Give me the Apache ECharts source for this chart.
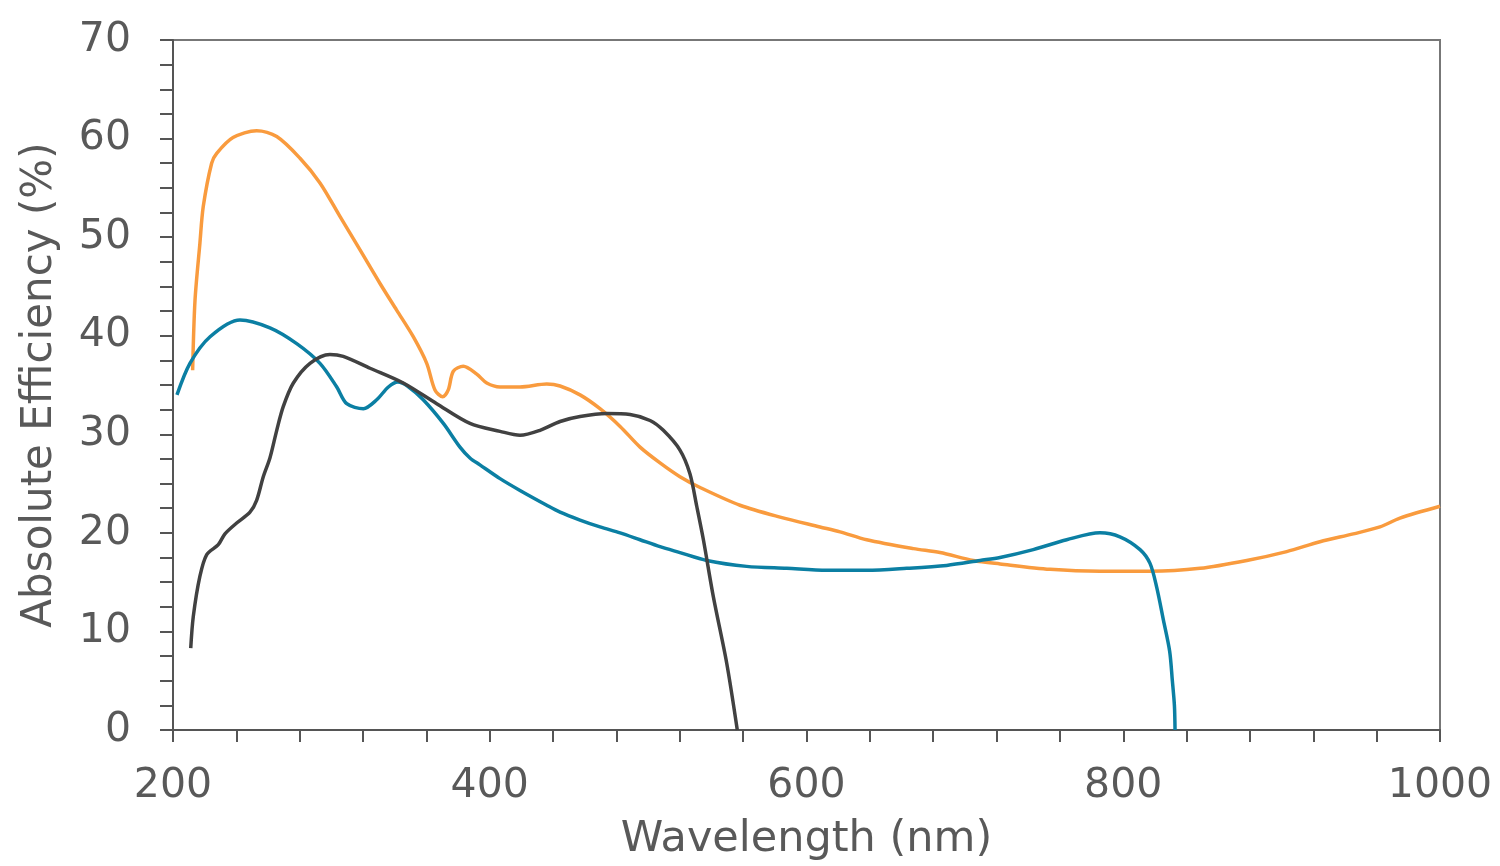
<!DOCTYPE html>
<html>
<head>
<meta charset="utf-8">
<script src="https://cdn.jsdelivr.net/npm/echarts@6/dist/echarts.min.js"></script>
<style>
html,body{margin:0;padding:0;background:#fff;}
#chart{width:1500px;height:866px;}
</style>
</head>
<body>
<div id="chart"></div>
<script>
// Wavelength (nm), Absolute Efficiency (%)
const orangeData = [
  [212.4,36.5],[213.9,43.6],[217.0,49.4],[219.1,53.1],[224.4,57.5],[227.6,58.5],
  [237.9,60.1],[252.8,60.8],[265.5,60.2],[280.2,58.0],[292.8,55.5],[305.4,52.1],
  [318.1,48.7],[330.7,45.3],[341.2,42.6],[351.7,39.9],[360.2,37.2],[365.4,34.5],
  [370.3,33.8],[373.8,34.5],[377.0,36.4],[383.3,36.9],[391.8,36.1],[398.1,35.2],
  [406.5,34.8],[419.1,34.8],[436.0,35.1],[444.4,34.9],[457.0,34.0],[469.6,32.6],
  [482.3,30.8],[494.9,28.7],[507.5,27.1],[520.1,25.7],[532.8,24.6],[558.0,22.8],
  [583.3,21.6],[608.5,20.6],[621.2,20.1],[638.0,19.3],[667.5,18.4],[684.3,18.0],
  [705.3,17.2],[722.2,16.85],[753.8,16.3],[785.3,16.1],[816.9,16.1],[848.5,16.4],
  [878.0,17.2],[903.2,18.1],[924.2,19.1],[945.3,19.9],[962.1,20.6],[974.7,21.5],
  [1000,22.7]
];
const blueData = [
  [202.5,34.0],[210.7,37.2],[223.4,39.9],[242.3,41.6],[261.2,40.8],[278.1,39.2],
  [292.8,37.2],[303.4,34.8],[309.7,33.1],[320.2,32.6],[328.6,33.5],[336.0,34.8],
  [342.0,35.3],[348.0,34.9],[358.0,33.5],[370.7,31.1],[381.2,28.7],[387.5,27.6],
  [393.8,26.9],[406.5,25.5],[419.1,24.3],[436.0,22.8],[444.4,22.1],[457.0,21.3],
  [469.6,20.6],[482.3,20.0],[494.9,19.3],[507.5,18.6],[520.1,18.0],[537.0,17.2],
  [562.2,16.6],[587.5,16.4],[612.8,16.2],[638.0,16.2],[663.3,16.4],[688.5,16.7],
  [709.6,17.2],[722.2,17.5],[743.2,18.3],[764.3,19.3],[785.3,20.0],[797.9,19.6],
  [810.6,18.3],[816.9,16.9],[821.1,14.5],[825.3,11.2],[829.3,8.0],[831.0,5.0],
  [832.3,2.5],[832.7,0]
];
const blackData = [
  [211.2,8.3],[212.8,11.5],[217.0,15.6],[221.3,17.8],[228.6,18.8],[232.8,19.9],
  [240.2,21.0],[248.6,22.1],[252.8,23.3],[257.0,25.7],[261.2,27.6],[265.5,30.4],
  [269.6,32.8],[276.0,35.2],[286.5,37.2],[299.1,38.1],[307.5,37.9],[324.4,36.7],
  [345.4,35.2],[366.5,33.1],[387.5,31.1],[406.5,30.3],[419.1,29.9],[431.7,30.4],
  [444.4,31.3],[457.0,31.8],[473.8,32.1],[488.6,32.0],[501.2,31.4],[509.6,30.4],
  [520.1,28.4],[526.4,26.0],[530.7,22.7],[534.9,19.3],[541.2,13.5],[549.6,6.8],
  [556.3,0]
];
const xTickLabels = [200, 400, 600, 800, 1000];
const yTickLabels = [0, 10, 20, 30, 40, 50, 60, 70];
const xTitle = 'Wavelength (nm)';
const yTitle = 'Absolute Efficiency (%)';

const textColor = '#595959';
const axisColor = '#555555';
const font = 'DejaVu Sans';

const chart = echarts.init(document.getElementById('chart'), null, {renderer: 'canvas'});
chart.setOption({
  animation: false,
  backgroundColor: '#ffffff',
  grid: {left: 173, right: 60, top: 40, bottom: 136, show: true, borderColor: '#777', borderWidth: 2, containLabel: false},
  xAxis: {
    type: 'value', min: 200, max: 1000, interval: 40,
    name: xTitle, nameLocation: 'middle', nameGap: 88,
    nameTextStyle: {color: textColor, fontSize: 43, fontFamily: font},
    axisLine: {show: true, lineStyle: {color: axisColor, width: 2}},
    axisTick: {show: true, length: 12, lineStyle: {color: axisColor, width: 2}},
    axisLabel: {
      color: textColor, fontSize: 41, fontFamily: font, margin: 36,
      showMinLabel: true, showMaxLabel: true,
      formatter: v => xTickLabels.includes(v) ? String(v) : ''
    },
    splitLine: {show: false}
  },
  yAxis: {
    type: 'value', min: 0, max: 70, interval: 2.5,
    name: yTitle, nameLocation: 'middle', nameGap: 112, nameRotate: 90,
    nameTextStyle: {color: textColor, fontSize: 42, fontFamily: font},
    axisLine: {show: true, lineStyle: {color: axisColor, width: 2}},
    axisTick: {show: true, length: 13, lineStyle: {color: axisColor, width: 2}},
    axisLabel: {
      color: textColor, fontSize: 41, fontFamily: font, margin: 42,
      showMinLabel: true, showMaxLabel: true,
      formatter: v => yTickLabels.includes(v) ? String(v) : ''
    },
    splitLine: {show: false}
  },
  series: [
    {type: 'line', data: orangeData, smooth: 0.3, showSymbol: false,
     lineStyle: {color: '#F99B3E', width: 3.5}, itemStyle: {color: '#F99B3E'}},
    {type: 'line', data: blueData, smooth: 0.3, showSymbol: false,
     lineStyle: {color: '#0B7FA3', width: 3.5}, itemStyle: {color: '#0B7FA3'}},
    {type: 'line', data: blackData, smooth: 0.3, showSymbol: false,
     lineStyle: {color: '#414141', width: 3.5}, itemStyle: {color: '#414141'}}
  ]
});
</script>
</body>
</html>
